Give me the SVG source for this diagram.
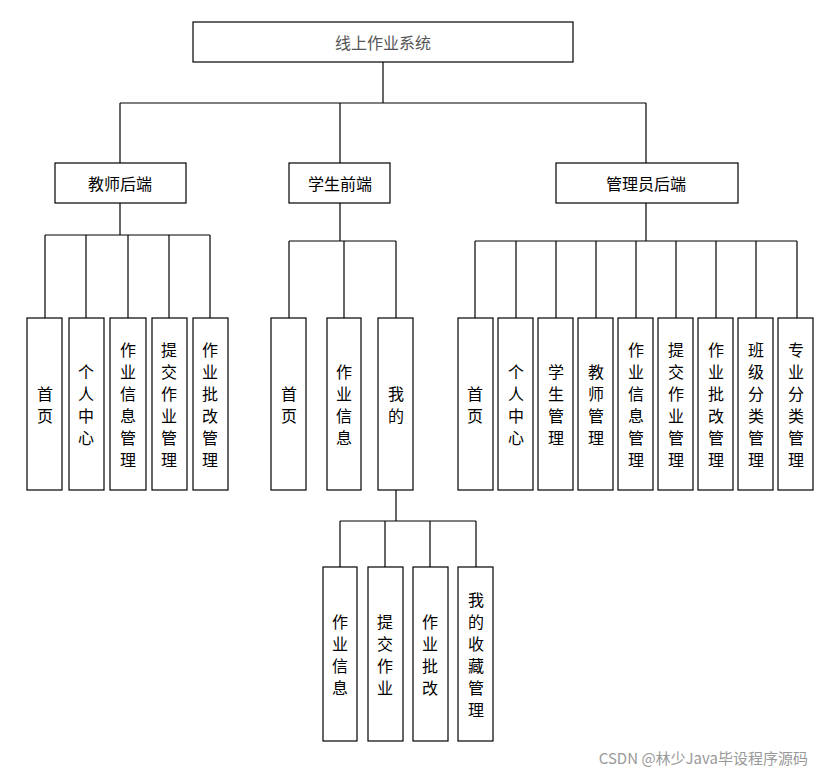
<svg xmlns="http://www.w3.org/2000/svg" width="822" height="776" viewBox="0 0 822 776">
<style>
rect{fill:#fff;stroke:#000;stroke-width:1.2}
line{stroke:#000;stroke-width:1.2}
text{font-family:"Noto Sans CJK SC","Liberation Sans",sans-serif;font-size:16px;fill:#000;text-anchor:middle;dominant-baseline:central}
</style>
<rect x="0" y="0" width="822" height="776" style="stroke:none"/>
<g id="connectors">
<line x1="383" y1="62" x2="383" y2="103"/><line x1="120" y1="103" x2="646" y2="103"/>
<line x1="120" y1="103" x2="120" y2="163"/><line x1="340" y1="103" x2="340" y2="163"/><line x1="646" y1="103" x2="646" y2="163"/>
<line x1="120" y1="203" x2="120" y2="235"/><line x1="45" y1="235" x2="210" y2="235"/>
<line x1="45" y1="235" x2="45" y2="318"/><line x1="86" y1="235" x2="86" y2="318"/><line x1="128" y1="235" x2="128" y2="318"/><line x1="169" y1="235" x2="169" y2="318"/><line x1="210" y1="235" x2="210" y2="318"/>
<line x1="340" y1="203" x2="340" y2="241"/><line x1="289" y1="241" x2="396" y2="241"/>
<line x1="289" y1="241" x2="289" y2="318"/><line x1="344" y1="241" x2="344" y2="318"/><line x1="396" y1="241" x2="396" y2="318"/>
<line x1="396" y1="490" x2="396" y2="521"/><line x1="340" y1="521" x2="476" y2="521"/>
<line x1="340" y1="521" x2="340" y2="567"/><line x1="385" y1="521" x2="385" y2="567"/><line x1="430" y1="521" x2="430" y2="567"/><line x1="476" y1="521" x2="476" y2="567"/>
<line x1="646" y1="203" x2="646" y2="241"/><line x1="475" y1="241" x2="797" y2="241"/>
<line x1="475" y1="241" x2="475" y2="318"/><line x1="516" y1="241" x2="516" y2="318"/><line x1="556" y1="241" x2="556" y2="318"/><line x1="596" y1="241" x2="596" y2="318"/><line x1="636" y1="241" x2="636" y2="318"/><line x1="676" y1="241" x2="676" y2="318"/><line x1="716" y1="241" x2="716" y2="318"/><line x1="756" y1="241" x2="756" y2="318"/><line x1="797" y1="241" x2="797" y2="318"/>
</g>
<g id="root"><rect x="193" y="22" width="380" height="40"/><text x="383" y="42" style="fill:#555">线上作业系统</text></g>
<g id="teacher"><rect x="55" y="163" width="131" height="40"/><text x="120" y="183">教师后端</text></g>
<g id="student"><rect x="289" y="163" width="101" height="40"/><text x="340" y="183">学生前端</text></g>
<g id="admin"><rect x="556" y="163" width="182" height="40"/><text x="646" y="183">管理员后端</text></g>
<g id="t1"><rect x="27" y="318" width="35" height="172"/><text x="45" y="393">首</text><text x="45" y="415">页</text></g>
<g id="t2"><rect x="69" y="318" width="35" height="172"/><text x="86" y="371">个</text><text x="86" y="393">人</text><text x="86" y="415">中</text><text x="86" y="437">心</text></g>
<g id="t3"><rect x="110" y="318" width="36" height="172"/><text x="128" y="349">作</text><text x="128" y="371">业</text><text x="128" y="393">信</text><text x="128" y="415">息</text><text x="128" y="437">管</text><text x="128" y="459">理</text></g>
<g id="t4"><rect x="152" y="318" width="35" height="172"/><text x="169" y="349">提</text><text x="169" y="371">交</text><text x="169" y="393">作</text><text x="169" y="415">业</text><text x="169" y="437">管</text><text x="169" y="459">理</text></g>
<g id="t5"><rect x="193" y="318" width="35" height="172"/><text x="210" y="349">作</text><text x="210" y="371">业</text><text x="210" y="393">批</text><text x="210" y="415">改</text><text x="210" y="437">管</text><text x="210" y="459">理</text></g>
<g id="s1"><rect x="271" y="318" width="35" height="172"/><text x="289" y="393">首</text><text x="289" y="415">页</text></g>
<g id="s2"><rect x="327" y="318" width="34" height="172"/><text x="344" y="371">作</text><text x="344" y="393">业</text><text x="344" y="415">信</text><text x="344" y="437">息</text></g>
<g id="s3"><rect x="378" y="318" width="35" height="172"/><text x="396" y="393">我</text><text x="396" y="415">的</text></g>
<g id="m1"><rect x="323" y="567" width="34" height="174"/><text x="340" y="621">作</text><text x="340" y="643">业</text><text x="340" y="665">信</text><text x="340" y="687">息</text></g>
<g id="m2"><rect x="368" y="567" width="35" height="174"/><text x="385" y="621">提</text><text x="385" y="643">交</text><text x="385" y="665">作</text><text x="385" y="687">业</text></g>
<g id="m3"><rect x="413" y="567" width="35" height="174"/><text x="430" y="621">作</text><text x="430" y="643">业</text><text x="430" y="665">批</text><text x="430" y="687">改</text></g>
<g id="m4"><rect x="458" y="567" width="35" height="174"/><text x="476" y="599">我</text><text x="476" y="621">的</text><text x="476" y="643">收</text><text x="476" y="665">藏</text><text x="476" y="687">管</text><text x="476" y="709">理</text></g>
<g id="a1"><rect x="458" y="318" width="35" height="172"/><text x="475" y="393">首</text><text x="475" y="415">页</text></g>
<g id="a2"><rect x="498" y="318" width="35" height="172"/><text x="516" y="371">个</text><text x="516" y="393">人</text><text x="516" y="415">中</text><text x="516" y="437">心</text></g>
<g id="a3"><rect x="538" y="318" width="35" height="172"/><text x="556" y="371">学</text><text x="556" y="393">生</text><text x="556" y="415">管</text><text x="556" y="437">理</text></g>
<g id="a4"><rect x="578" y="318" width="35" height="172"/><text x="596" y="371">教</text><text x="596" y="393">师</text><text x="596" y="415">管</text><text x="596" y="437">理</text></g>
<g id="a5"><rect x="618" y="318" width="35" height="172"/><text x="636" y="349">作</text><text x="636" y="371">业</text><text x="636" y="393">信</text><text x="636" y="415">息</text><text x="636" y="437">管</text><text x="636" y="459">理</text></g>
<g id="a6"><rect x="658" y="318" width="35" height="172"/><text x="676" y="349">提</text><text x="676" y="371">交</text><text x="676" y="393">作</text><text x="676" y="415">业</text><text x="676" y="437">管</text><text x="676" y="459">理</text></g>
<g id="a7"><rect x="698" y="318" width="35" height="172"/><text x="716" y="349">作</text><text x="716" y="371">业</text><text x="716" y="393">批</text><text x="716" y="415">改</text><text x="716" y="437">管</text><text x="716" y="459">理</text></g>
<g id="a8"><rect x="738" y="318" width="35" height="172"/><text x="756" y="349">班</text><text x="756" y="371">级</text><text x="756" y="393">分</text><text x="756" y="415">类</text><text x="756" y="437">管</text><text x="756" y="459">理</text></g>
<g id="a9"><rect x="778" y="318" width="35" height="172"/><text x="796" y="349">专</text><text x="796" y="371">业</text><text x="796" y="393">分</text><text x="796" y="415">类</text><text x="796" y="437">管</text><text x="796" y="459">理</text></g>
<text x="808" y="757" style="text-anchor:end;fill:#999;font-size:15px">CSDN @林少Java毕设程序源码</text>
</svg>
